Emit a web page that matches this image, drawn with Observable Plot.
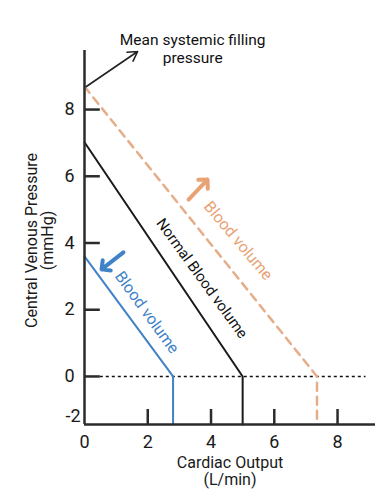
<!DOCTYPE html>
<html>
<head>
<meta charset="utf-8">
<script src="https://cdn.jsdelivr.net/npm/d3@7"></script>
<script src="https://cdn.jsdelivr.net/npm/@observablehq/plot@0.6"></script>
<style>
  html, body { margin: 0; padding: 0; background: #fff; }
</style>
</head>
<body>
<div id="chart"></div>
<script>
// ---- data ----
const xTicks = [0, 2, 4, 6, 8];
const xTickMarks = [2, 4, 6, 8];
const yTicks = [0, 2, 4, 6, 8];
const yBottomLabel = "-2";
const xDomain = [0, 9.2];
const yDomain = [-1.44, 9.77];

// venous return curves: [y-intercept (x=0), x where pressure reaches 0]
const normalCurve = [[0, 7.02], [5.0, 0]];
const increasedCurve = [[0, 8.69], [7.35, 0]];
const decreasedCurve = [[0, 3.6], [2.8, 0]];

const xLabel = "Cardiac Output\n(L/min)";
const yLabel = "Central Venous Pressure\n(mmHg)";
const msfpLabel = "Mean systemic filling\npressure";
const msfpArrow = [[0.06, 8.69], [1.68, 9.74]];
const msfpLabelPos = [3.42, 9.83];

const normalLabel = {text: "Normal Blood volume", x: 3.71, y: 2.94, rotate: 54};
const upLabel = {text: "Blood volume", x: 4.86, y: 4.07, rotate: 50};
const downLabel = {text: "Blood volume", x: 1.97, y: 1.92, rotate: 54};
const upArrow = [[3.29, 5.30], [3.89, 5.90]];
const downArrow = [[1.23, 3.72], [0.54, 3.21]];

// ---- build ----
const yMin = yDomain[0];
function toPath(c) {
  const pts = c.map(([x, y]) => ({x, y}));
  pts.push({x: c[c.length - 1][0], y: yMin});
  return pts;
}
const axisColor = "#2b2b2b";
const blue = "#3f83c6";
const orangeLine = "#e5ad88";
const orangeText = "#e9a274";

const chart = Plot.plot({
  width: 383,
  height: 495,
  marginLeft: 84,
  marginRight: 8,
  marginTop: 50,
  marginBottom: 71,
  style: {fontFamily: "Roboto, sans-serif", fontSize: "18px", background: "#fff", color: "#1a1a1a"},
  x: {domain: xDomain, ticks: xTicks, tickSize: 0, tickPadding: 11, label: null},
  y: {domain: yDomain, ticks: yTicks, tickSize: 0, tickPadding: 10, label: null},
  marks: [
    // zero reference line
    Plot.ruleY([0], {x1: 0.5, x2: 8.9, stroke: "#111", strokeWidth: 1.5, strokeDasharray: "3,3"}),
    // curves
    Plot.line(toPath(increasedCurve), {x: "x", y: "y", stroke: orangeLine, strokeWidth: 2.5, strokeDasharray: "8,6"}),
    Plot.line(toPath(normalCurve), {x: "x", y: "y", stroke: "#1a1a1a", strokeWidth: 2}),
    Plot.line(toPath(decreasedCurve), {x: "x", y: "y", stroke: blue, strokeWidth: 2}),
    // axes lines and inward ticks
    Plot.ruleX([0], {y1: yDomain[0], y2: yDomain[1], stroke: axisColor, strokeWidth: 2.5}),
    Plot.ruleY([yMin], {x1: 0, x2: xDomain[1], stroke: axisColor, strokeWidth: 2.5}),
    Plot.ruleY(yTicks, {x1: 0, x2: 0.5, stroke: axisColor, strokeWidth: 2.5}),
    Plot.ruleX(xTickMarks, {y1: yMin, y2: yMin + 0.45, stroke: axisColor, strokeWidth: 2.5}),
    Plot.text([yBottomLabel], {x: 0, y: yMin, dx: -4, dy: -8, textAnchor: "end", fontSize: 18, fill: "#1a1a1a"}),
    // axis titles
    Plot.text([xLabel], {frameAnchor: "bottom", lineAnchor: "middle", textAnchor: "middle", dy: 46.5, fontSize: 16, lineHeight: 1.1, fill: "#1a1a1a"}),
    Plot.text([yLabel], {frameAnchor: "left", lineAnchor: "middle", textAnchor: "middle", dx: -45, dy: 3, rotate: -90, fontSize: 16, lineHeight: 1.0, fill: "#1a1a1a"}),
    // mean systemic filling pressure annotation
    Plot.arrow([msfpArrow], {x1: d => d[0][0], y1: d => d[0][1], x2: d => d[1][0], y2: d => d[1][1], stroke: "#222", strokeWidth: 1.6, headLength: 10}),
    Plot.text([msfpLabel], {x: msfpLabelPos[0], y: msfpLabelPos[1], fontSize: 15.5, lineHeight: 1.15, fill: "#111"}),
    // curve labels
    Plot.text([normalLabel], {x: "x", y: "y", text: "text", rotate: normalLabel.rotate, fontSize: 15, fill: "#111"}),
    Plot.text([upLabel], {x: "x", y: "y", text: "text", rotate: upLabel.rotate, fontSize: 16, fill: orangeText}),
    Plot.text([downLabel], {x: "x", y: "y", text: "text", rotate: downLabel.rotate, fontSize: 16, fill: blue}),
    // direction arrows
    Plot.arrow([upArrow], {x1: d => d[0][0], y1: d => d[0][1], x2: d => d[1][0], y2: d => d[1][1], stroke: orangeText, strokeWidth: 4, headLength: 7, headAngle: 90}),
    Plot.arrow([downArrow], {x1: d => d[0][0], y1: d => d[0][1], x2: d => d[1][0], y2: d => d[1][1], stroke: blue, strokeWidth: 4, headLength: 7, headAngle: 90})
  ]
});
document.getElementById("chart").appendChild(chart);
</script>
</body>
</html>
